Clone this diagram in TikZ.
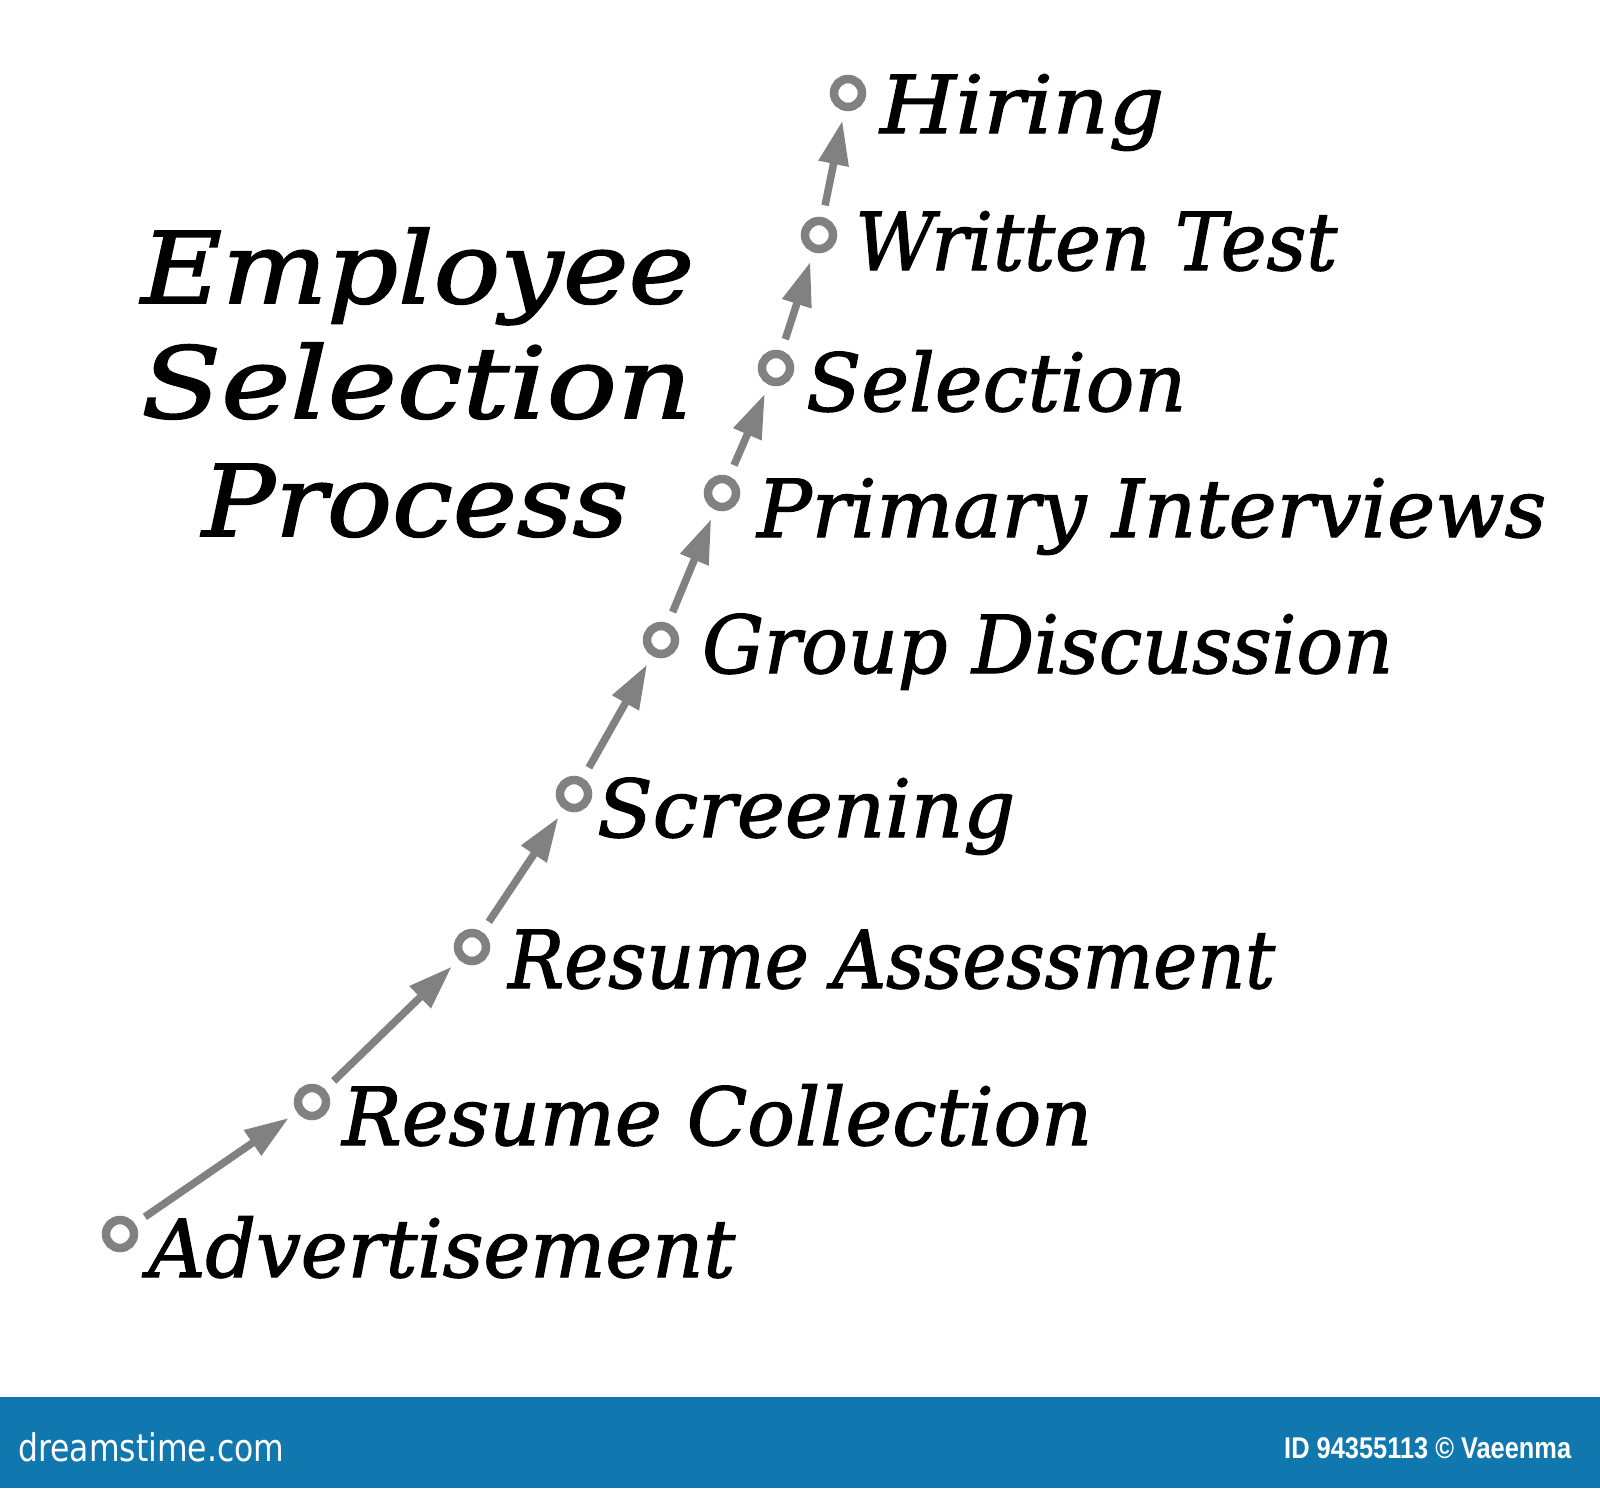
\documentclass[tikz,border=0pt]{standalone}
\usepackage{fontspec}
\usepackage{graphicx}
\setmainfont{DejaVu Serif}
\newfontfamily\scr{DejaVu Serif}[UprightFont={* Italic},UprightFeatures={FakeBold=1.6}]
\newfontfamily\barsans{DejaVu Sans}
\newfontfamily\barbold{Liberation Sans}
\usetikzlibrary{arrows.meta}
\definecolor{ringgray}{HTML}{818181}
\definecolor{barblue}{HTML}{1077AF}
\newsavebox\fitbox
\newcommand\fitto[2]{\sbox\fitbox{#2}\pgfmathsetmacro\fitfac{#1/\the\wd\fitbox}\scalebox{\fitfac}[1]{\usebox\fitbox}}
\begin{document}
\begin{tikzpicture}[x=1pt,y=-1pt,
  ring/.style={circle,draw=ringgray,line width=8.5pt,minimum size=28pt,inner sep=0pt},
  stepline/.style={draw=ringgray,line width=7.5pt,shorten <=12pt,shorten >=10pt,
     -{Triangle[length=44pt,width=29pt]}},
  lbl/.style={anchor=base west,inner sep=0pt,font=\scr\fontsize{80}{96}\selectfont},
  ttl/.style={anchor=base west,inner sep=0pt,font=\scr\fontsize{99}{118}\selectfont},
  bartxt/.style={anchor=base west,inner sep=0pt,text=white}]
\useasboundingbox (0,0) rectangle (1600,1488);
\fill[white] (0,0) rectangle (1600,1488);
% title
\node[ttl] (t1) at (141,303) {\fitto{553}{Employee}};
\node[ttl] (t2) at (141,418) {\fitto{551}{Selection}};
\node[ttl] (t3) at (202,536) {\fitto{426}{Process}};
% rings
\node[ring] (c1) at (120,1234) {};
\node[ring] (c2) at (312,1102) {};
\node[ring] (c3) at (472,947) {};
\node[ring] (c4) at (574,794) {};
\node[ring] (c5) at (661,640) {};
\node[ring] (c6) at (722,493) {};
\node[ring] (c7) at (776,368) {};
\node[ring] (c8) at (819,235) {};
\node[ring] (c9) at (848,93) {};
% labels
\node[lbl] (l1) at (148,1277) {\fitto{587}{Advertisement}};
\node[lbl] (l2) at (342,1145) {\fitto{750}{Resume Collection}};
\node[lbl] (l3) at (508,988) {\fitto{767}{Resume Assessment}};
\node[lbl] (l4) at (597,837) {\fitto{418}{Screening}};
\node[lbl] (l5) at (702,673) {\fitto{691}{Group Discussion}};
\node[lbl] (l6) at (757,537) {\fitto{789}{Primary Interviews}};
\node[lbl] (l7) at (806,411) {\fitto{380}{Selection}};
\node[lbl] (l8) at (855,270) {\fitto{482}{Written Test}};
\node[lbl] (l9) at (880,133) {\fitto{284}{Hiring}};
% arrows
\draw[stepline] (c1) -- (c2);
\draw[stepline] (c2) -- (c3);
\draw[stepline] (c3) -- (c4);
\draw[stepline] (c4) -- (c5);
\draw[stepline] (c5) -- (c6);
\draw[stepline] (c6) -- (c7);
\draw[stepline] (c7) -- (c8);
\draw[stepline] (c8) -- (c9);
% bottom bar
\fill[barblue] (0,1397) rectangle (1600,1488);
\node[bartxt,font=\barsans\fontsize{38}{44}\selectfont] (w1) at (18,1461) {\fitto{266}{dreamstime.com}};
\node[bartxt,font=\barbold\bfseries\fontsize{30}{34}\selectfont] (w2) at (1284,1458) {\fitto{287}{ID 94355113 © Vaeenma}};
\end{tikzpicture}
\end{document}
